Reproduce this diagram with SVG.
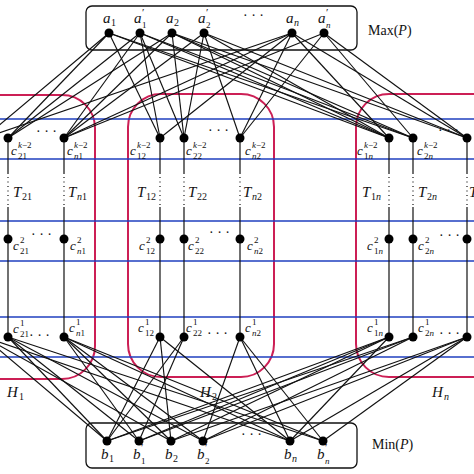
<svg xmlns="http://www.w3.org/2000/svg" width="474" height="474" viewBox="0 0 474 474">
<style>
.bg{fill:#fff}
.box{fill:none;stroke:#111;stroke-width:1.3}
.h{fill:none;stroke:#cc1f55;stroke-width:2}
.bl{stroke:#1f3fbf;stroke-width:1.5}
.e{stroke:#111;stroke-width:1.15}
.col{stroke:#111;stroke-width:1.2}
.dot{stroke:#111;stroke-width:1.2;stroke-dasharray:1 3.5}
.n{fill:#000}
text{font-family:"Liberation Serif","DejaVu Serif",serif;fill:#111}
.v{font-size:13px;font-style:italic}
.s{font-size:9px}
.i{font-style:italic}
.L{font-size:15px;font-style:italic}
.Ls{font-size:10px}
.pr{font-size:11px}
.ps{font-size:9px}
.r{font-size:14px}
</style>
<rect class="bg" x="0" y="0" width="474" height="474"/>
<g id="gadgets">
<rect id="H1" class="h" x="-60" y="95" width="155" height="284" rx="33"/>
<rect id="H2" class="h" x="128" y="94" width="146" height="283" rx="33"/>
<rect id="Hn" class="h" x="356" y="94" width="190" height="283" rx="33"/>
</g>
<g id="levels">
<line class="bl" x1="0" y1="119" x2="474" y2="119"/>
<line class="bl" x1="0" y1="159" x2="474" y2="159"/>
<line class="bl" x1="0" y1="221" x2="474" y2="221"/>
<line class="bl" x1="0" y1="261" x2="474" y2="261"/>
<line class="bl" x1="0" y1="317" x2="474" y2="317"/>
<line class="bl" x1="0" y1="357" x2="474" y2="357"/>
</g>
<g id="connectors">
<line class="e" x1="109" y1="33" x2="-16" y2="138"/>
<line class="e" x1="109" y1="33" x2="8" y2="138"/>
<line class="e" x1="109" y1="33" x2="160" y2="138"/>
<line class="e" x1="109" y1="33" x2="389" y2="138"/>
<line class="e" x1="109" y1="33" x2="413" y2="138"/>
<line class="e" x1="140" y1="33" x2="8" y2="138"/>
<line class="e" x1="140" y1="33" x2="64" y2="138"/>
<line class="e" x1="140" y1="33" x2="160" y2="138"/>
<line class="e" x1="140" y1="33" x2="184" y2="138"/>
<line class="e" x1="140" y1="33" x2="389" y2="138"/>
<line class="e" x1="140" y1="33" x2="413" y2="138"/>
<line class="e" x1="172" y1="33" x2="8" y2="138"/>
<line class="e" x1="172" y1="33" x2="64" y2="138"/>
<line class="e" x1="172" y1="33" x2="184" y2="138"/>
<line class="e" x1="172" y1="33" x2="389" y2="138"/>
<line class="e" x1="172" y1="33" x2="413" y2="138"/>
<line class="e" x1="172" y1="33" x2="467" y2="138"/>
<line class="e" x1="204" y1="33" x2="64" y2="138"/>
<line class="e" x1="204" y1="33" x2="184" y2="138"/>
<line class="e" x1="204" y1="33" x2="240" y2="138"/>
<line class="e" x1="204" y1="33" x2="389" y2="138"/>
<line class="e" x1="204" y1="33" x2="467" y2="138"/>
<line class="e" x1="292" y1="33" x2="-16" y2="138"/>
<line class="e" x1="292" y1="33" x2="64" y2="138"/>
<line class="e" x1="292" y1="33" x2="160" y2="138"/>
<line class="e" x1="292" y1="33" x2="240" y2="138"/>
<line class="e" x1="292" y1="33" x2="389" y2="138"/>
<line class="e" x1="292" y1="33" x2="467" y2="138"/>
<line class="e" x1="324" y1="33" x2="64" y2="138"/>
<line class="e" x1="324" y1="33" x2="240" y2="138"/>
<line class="e" x1="324" y1="33" x2="413" y2="138"/>
<line class="e" x1="324" y1="33" x2="467" y2="138"/>
<line class="e" x1="107" y1="441" x2="-16" y2="337"/>
<line class="e" x1="107" y1="441" x2="8" y2="337"/>
<line class="e" x1="107" y1="441" x2="160" y2="337"/>
<line class="e" x1="107" y1="441" x2="184" y2="337"/>
<line class="e" x1="107" y1="441" x2="389" y2="337"/>
<line class="e" x1="107" y1="441" x2="413" y2="337"/>
<line class="e" x1="139" y1="441" x2="8" y2="337"/>
<line class="e" x1="139" y1="441" x2="64" y2="337"/>
<line class="e" x1="139" y1="441" x2="184" y2="337"/>
<line class="e" x1="139" y1="441" x2="389" y2="337"/>
<line class="e" x1="139" y1="441" x2="413" y2="337"/>
<line class="e" x1="171" y1="441" x2="-16" y2="337"/>
<line class="e" x1="171" y1="441" x2="64" y2="337"/>
<line class="e" x1="171" y1="441" x2="160" y2="337"/>
<line class="e" x1="171" y1="441" x2="389" y2="337"/>
<line class="e" x1="171" y1="441" x2="467" y2="337"/>
<line class="e" x1="203" y1="441" x2="8" y2="337"/>
<line class="e" x1="203" y1="441" x2="64" y2="337"/>
<line class="e" x1="203" y1="441" x2="240" y2="337"/>
<line class="e" x1="203" y1="441" x2="413" y2="337"/>
<line class="e" x1="203" y1="441" x2="467" y2="337"/>
<line class="e" x1="290" y1="441" x2="-16" y2="337"/>
<line class="e" x1="290" y1="441" x2="64" y2="337"/>
<line class="e" x1="290" y1="441" x2="160" y2="337"/>
<line class="e" x1="290" y1="441" x2="240" y2="337"/>
<line class="e" x1="290" y1="441" x2="389" y2="337"/>
<line class="e" x1="290" y1="441" x2="467" y2="337"/>
<line class="e" x1="323" y1="441" x2="8" y2="337"/>
<line class="e" x1="323" y1="441" x2="64" y2="337"/>
<line class="e" x1="323" y1="441" x2="240" y2="337"/>
<line class="e" x1="323" y1="441" x2="467" y2="337"/>
</g>
<g id="columns">
<g id="col21"><line class="col" x1="8" y1="138" x2="8" y2="174"/><line class="dot" x1="8" y1="177" x2="8" y2="206"/><line class="col" x1="8" y1="207" x2="8" y2="337"/></g>
<g id="coln1"><line class="col" x1="64" y1="138" x2="64" y2="174"/><line class="dot" x1="64" y1="177" x2="64" y2="206"/><line class="col" x1="64" y1="207" x2="64" y2="337"/></g>
<g id="col12"><line class="col" x1="160" y1="138" x2="160" y2="174"/><line class="dot" x1="160" y1="177" x2="160" y2="206"/><line class="col" x1="160" y1="207" x2="160" y2="337"/></g>
<g id="col22"><line class="col" x1="184" y1="138" x2="184" y2="174"/><line class="dot" x1="184" y1="177" x2="184" y2="206"/><line class="col" x1="184" y1="207" x2="184" y2="337"/></g>
<g id="coln2"><line class="col" x1="240" y1="138" x2="240" y2="174"/><line class="dot" x1="240" y1="177" x2="240" y2="206"/><line class="col" x1="240" y1="207" x2="240" y2="337"/></g>
<g id="col1n"><line class="col" x1="389" y1="138" x2="389" y2="174"/><line class="dot" x1="389" y1="177" x2="389" y2="206"/><line class="col" x1="389" y1="207" x2="389" y2="337"/></g>
<g id="col2n"><line class="col" x1="413" y1="138" x2="413" y2="174"/><line class="dot" x1="413" y1="177" x2="413" y2="206"/><line class="col" x1="413" y1="207" x2="413" y2="337"/></g>
<g id="colnn"><line class="col" x1="467" y1="138" x2="467" y2="174"/><line class="dot" x1="467" y1="177" x2="467" y2="206"/><line class="col" x1="467" y1="207" x2="467" y2="337"/></g>
</g>
<g id="MaxP">
<rect class="box" x="86" y="6" width="271" height="44" rx="6"/>
<text class="r" x="368" y="35">Max(<tspan class="i">P</tspan>)</text>
<text class="r" x="243" y="20">· · ·</text>
</g>
<g id="a1"><circle class="n" cx="109" cy="33" r="4.5"/><text class="L" x="103" y="23">a</text><text class="Ls" x="111" y="26">1</text></g>
<g id="a1p"><circle class="n" cx="140" cy="33" r="4.5"/><text class="L" x="134" y="23">a</text><text class="pr" x="142" y="16">′</text><text class="ps" x="142" y="28">1</text></g>
<g id="a2"><circle class="n" cx="172" cy="33" r="4.5"/><text class="L" x="166" y="23">a</text><text class="Ls" x="174" y="26">2</text></g>
<g id="a2p"><circle class="n" cx="204" cy="33" r="4.5"/><text class="L" x="198" y="23">a</text><text class="pr" x="206" y="16">′</text><text class="ps" x="206" y="28">2</text></g>
<g id="an"><circle class="n" cx="292" cy="33" r="4.5"/><text class="L" x="286" y="23">a</text><text class="Ls i" x="294" y="26">n</text></g>
<g id="anp"><circle class="n" cx="324" cy="33" r="4.5"/><text class="L" x="318" y="23">a</text><text class="pr" x="326" y="16">′</text><text class="ps i" x="326" y="28">n</text></g>
<g id="MinP">
<rect class="box" x="86" y="423" width="271" height="45" rx="6"/>
<text class="r" x="372" y="449">Min(<tspan class="i">P</tspan>)</text>
<text class="r" x="241" y="439">· · ·</text>
</g>
<g id="b1"><circle class="n" cx="107" cy="441" r="4.5"/><text class="L" x="101" y="459">b</text><text class="Ls" x="109" y="462">1</text></g>
<g id="b1p"><circle class="n" cx="139" cy="441" r="4.5"/><text class="L" x="133" y="459">b</text><text class="pr" x="141" y="451">′</text><text class="ps" x="141" y="464">1</text></g>
<g id="b2"><circle class="n" cx="171" cy="441" r="4.5"/><text class="L" x="165" y="459">b</text><text class="Ls" x="173" y="462">2</text></g>
<g id="b2p"><circle class="n" cx="203" cy="441" r="4.5"/><text class="L" x="197" y="459">b</text><text class="pr" x="205" y="451">′</text><text class="ps" x="205" y="464">2</text></g>
<g id="bn"><circle class="n" cx="290" cy="441" r="4.5"/><text class="L" x="284" y="459">b</text><text class="Ls i" x="292" y="462">n</text></g>
<g id="bnp"><circle class="n" cx="323" cy="441" r="4.5"/><text class="L" x="317" y="459">b</text><text class="pr" x="325" y="451">′</text><text class="ps i" x="325" y="464">n</text></g>
<g id="ck2">
<circle class="n" cx="8" cy="138" r="4.5"/><circle class="n" cx="64" cy="138" r="4.5"/>
<circle class="n" cx="160" cy="138" r="4.5"/><circle class="n" cx="184" cy="138" r="4.5"/><circle class="n" cx="240" cy="138" r="4.5"/>
<circle class="n" cx="389" cy="138" r="4.5"/><circle class="n" cx="413" cy="138" r="4.5"/><circle class="n" cx="467" cy="138" r="4.5"/>
<text class="v" x="11" y="155">c</text><text class="s" x="18" y="148"><tspan class="i">k</tspan>−2</text><text class="s" x="18" y="159">21</text>
<text class="v" x="67" y="155">c</text><text class="s" x="74" y="148"><tspan class="i">k</tspan>−2</text><text class="s" x="74" y="159"><tspan class="i">n</tspan>1</text>
<text class="v" x="130" y="155">c</text><text class="s" x="137" y="148"><tspan class="i">k</tspan>−2</text><text class="s" x="137" y="159">12</text>
<text class="v" x="186" y="155">c</text><text class="s" x="193" y="148"><tspan class="i">k</tspan>−2</text><text class="s" x="193" y="159">22</text>
<text class="v" x="245" y="155">c</text><text class="s" x="252" y="148"><tspan class="i">k</tspan>−2</text><text class="s" x="252" y="159"><tspan class="i">n</tspan>2</text>
<text class="v" x="357" y="155">c</text><text class="s" x="364" y="148"><tspan class="i">k</tspan>−2</text><text class="s" x="364" y="159">1<tspan class="i">n</tspan></text>
<text class="v" x="417" y="155">c</text><text class="s" x="424" y="148"><tspan class="i">k</tspan>−2</text><text class="s" x="424" y="159">2<tspan class="i">n</tspan></text>
<text class="r" x="36" y="136">· · ·</text><text class="r" x="208" y="135">· · ·</text><text class="r" x="438" y="135">· · ·</text>
</g>
<g id="T">
<text class="L" x="13" y="197">T</text><text class="Ls" x="22" y="200">21</text>
<text class="L" x="68" y="197">T</text><text class="Ls" x="77" y="200"><tspan class="i">n</tspan>1</text>
<text class="L" x="137" y="197">T</text><text class="Ls" x="146" y="200">12</text>
<text class="L" x="188" y="197">T</text><text class="Ls" x="197" y="200">22</text>
<text class="L" x="243" y="197">T</text><text class="Ls" x="252" y="200"><tspan class="i">n</tspan>2</text>
<text class="L" x="362" y="197">T</text><text class="Ls" x="371" y="200">1<tspan class="i">n</tspan></text>
<text class="L" x="418" y="197">T</text><text class="Ls" x="427" y="200">2<tspan class="i">n</tspan></text>
<text class="L" x="469" y="197">T</text>
</g>
<g id="c2">
<circle class="n" cx="8" cy="239" r="4.5"/><circle class="n" cx="64" cy="239" r="4.5"/>
<circle class="n" cx="160" cy="239" r="4.5"/><circle class="n" cx="184" cy="239" r="4.5"/><circle class="n" cx="240" cy="239" r="4.5"/>
<circle class="n" cx="389" cy="239" r="4.5"/><circle class="n" cx="413" cy="239" r="4.5"/><circle class="n" cx="467" cy="239" r="4.5"/>
<text class="v" x="13" y="250">c</text><text class="s" x="20" y="243">2</text><text class="s" x="20" y="254">21</text>
<text class="v" x="70" y="250">c</text><text class="s" x="77" y="243">2</text><text class="s" x="77" y="254"><tspan class="i">n</tspan>1</text>
<text class="v" x="139" y="250">c</text><text class="s" x="146" y="243">2</text><text class="s" x="146" y="254">12</text>
<text class="v" x="188" y="250">c</text><text class="s" x="195" y="243">2</text><text class="s" x="195" y="254">22</text>
<text class="v" x="247" y="250">c</text><text class="s" x="254" y="243">2</text><text class="s" x="254" y="254"><tspan class="i">n</tspan>2</text>
<text class="v" x="367" y="250">c</text><text class="s" x="374" y="243">2</text><text class="s" x="374" y="254">1<tspan class="i">n</tspan></text>
<text class="v" x="418" y="250">c</text><text class="s" x="425" y="243">2</text><text class="s" x="425" y="254">2<tspan class="i">n</tspan></text>
<text class="r" x="31" y="239">· · ·</text><text class="r" x="209" y="237">· · ·</text><text class="r" x="439" y="240">· · ·</text>
</g>
<g id="c1">
<circle class="n" cx="8" cy="337" r="4.5"/><circle class="n" cx="64" cy="337" r="4.5"/>
<circle class="n" cx="160" cy="337" r="4.5"/><circle class="n" cx="184" cy="337" r="4.5"/><circle class="n" cx="240" cy="337" r="4.5"/>
<circle class="n" cx="389" cy="337" r="4.5"/><circle class="n" cx="413" cy="337" r="4.5"/><circle class="n" cx="467" cy="337" r="4.5"/>
<text class="v" x="13" y="333">c</text><text class="s" x="20" y="326">1</text><text class="s" x="20" y="337">21</text>
<text class="v" x="69" y="332">c</text><text class="s" x="76" y="325">1</text><text class="s" x="76" y="336"><tspan class="i">n</tspan>1</text>
<text class="v" x="138" y="332">c</text><text class="s" x="145" y="325">1</text><text class="s" x="145" y="336">12</text>
<text class="v" x="186" y="332">c</text><text class="s" x="193" y="325">1</text><text class="s" x="193" y="336">22</text>
<text class="v" x="245" y="332">c</text><text class="s" x="252" y="325">1</text><text class="s" x="252" y="336"><tspan class="i">n</tspan>2</text>
<text class="v" x="367" y="332">c</text><text class="s" x="374" y="325">1</text><text class="s" x="374" y="336">1<tspan class="i">n</tspan></text>
<text class="v" x="418" y="332">c</text><text class="s" x="425" y="325">1</text><text class="s" x="425" y="336">2<tspan class="i">n</tspan></text>
<text class="r" x="29" y="340">· · ·</text><text class="r" x="207" y="338">· · ·</text><text class="r" x="439" y="338">· · ·</text>
</g>
<g id="Hlabels">
<text class="L" x="7" y="397" font-size="16">H</text><text class="Ls" x="19" y="400">1</text>
<text class="L" x="200" y="397" font-size="16">H</text><text class="Ls" x="212" y="400">2</text>
<text class="L" x="432" y="397" font-size="16">H</text><text class="Ls i" x="444" y="400">n</text>
</g>
</svg>
